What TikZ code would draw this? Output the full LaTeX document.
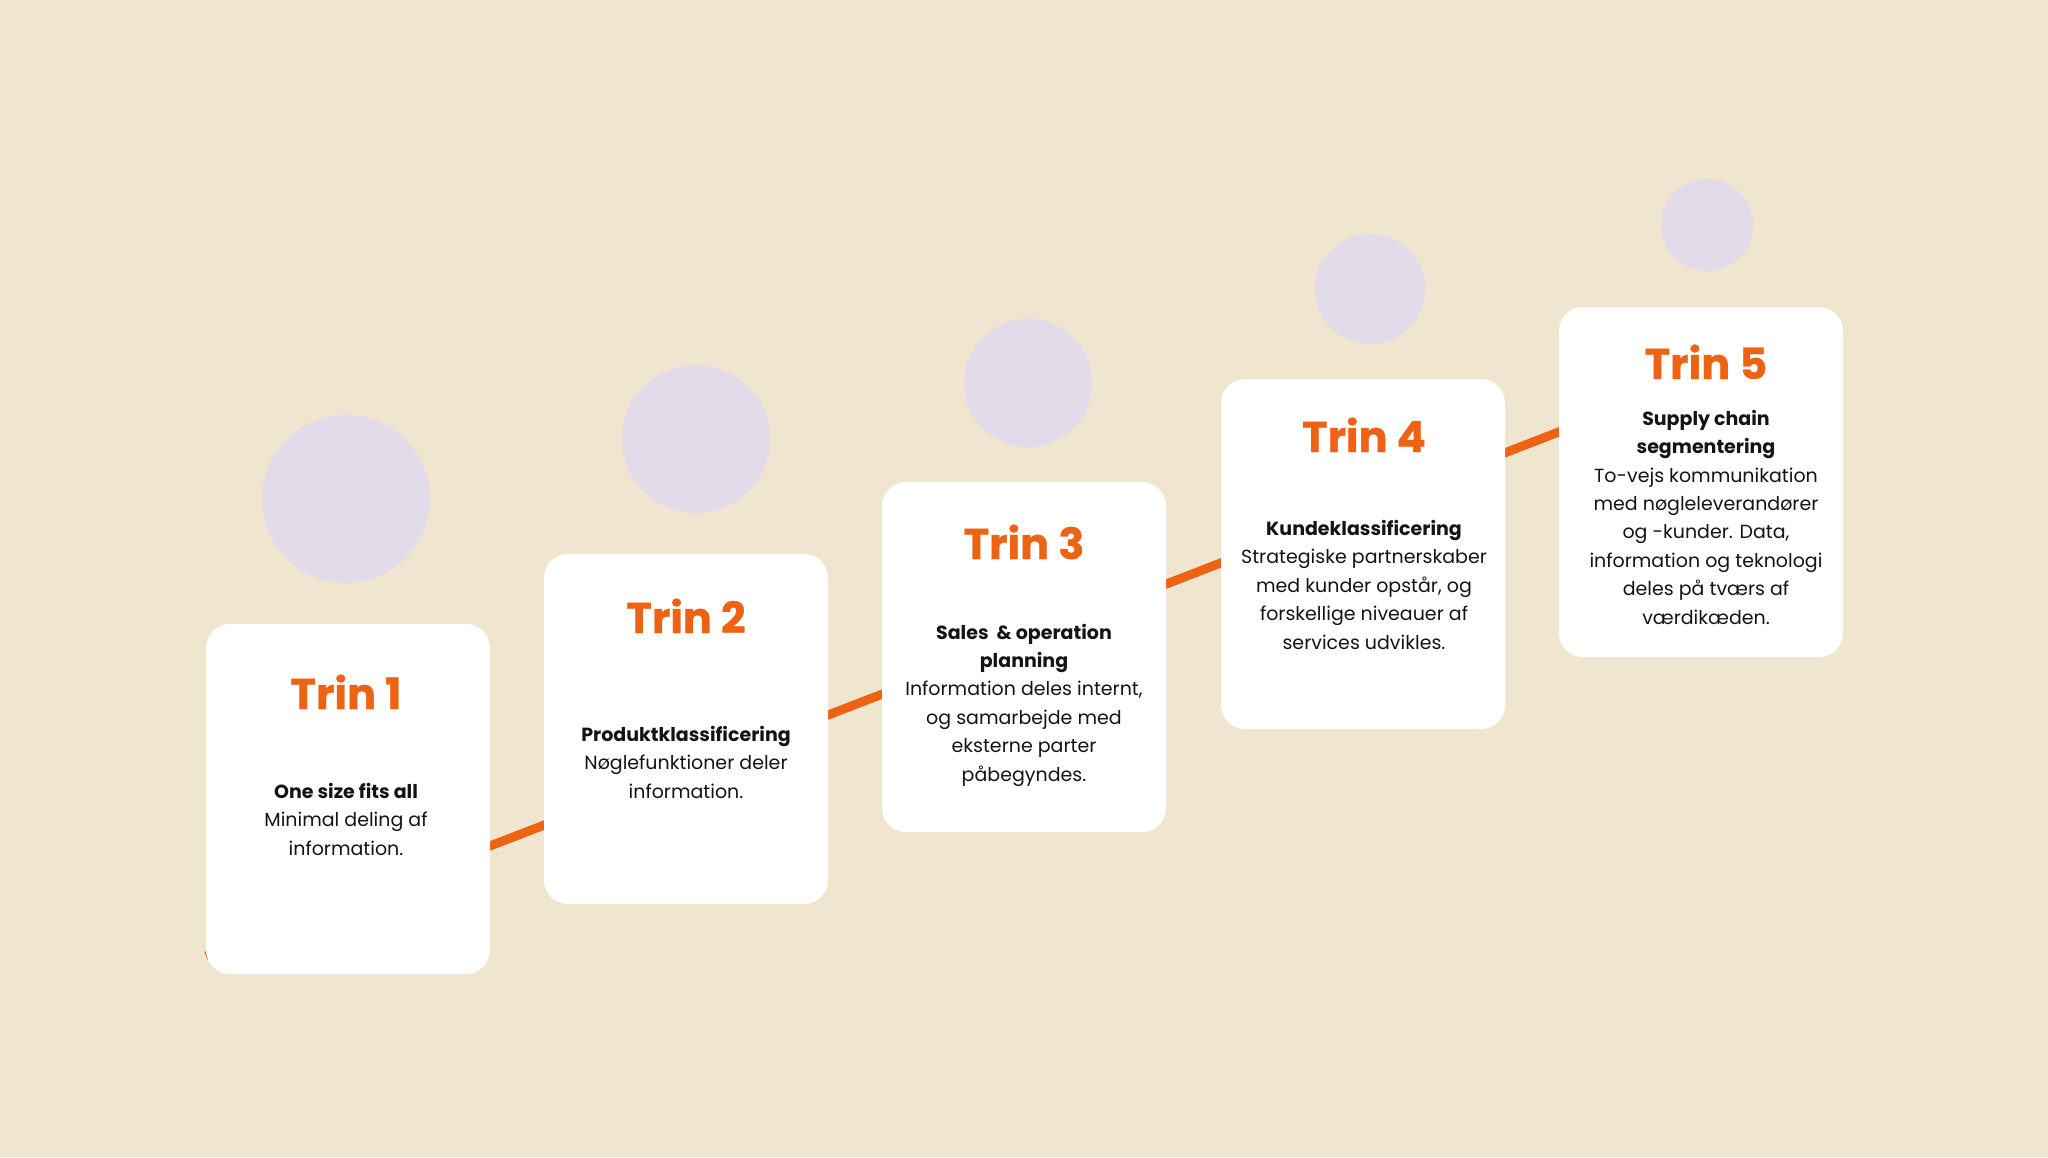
\documentclass[tikz,border=0pt]{standalone}
\usepackage{fontspec}
\setmainfont{Poppins}
\newfontfamily\trinfont{Poppins}[BoldFeatures={FakeBold=0.8}]
\usepackage{tikz}
\usetikzlibrary{positioning}
\definecolor{trinbg}{RGB}{240,230,208}
\definecolor{trinorange}{RGB}{238,98,20}
\definecolor{trinlilac}{RGB}{226,219,234}
\definecolor{trintext}{RGB}{20,20,20}
\tikzstyle{trail} = [line width=4.5pt, color=trinorange]

\begin{document}
\begin{tikzpicture}[
    x=0.5pt, y=-0.5pt,
    card/.style={rectangle, rounded corners=12pt, fill=white, minimum width=142pt, minimum height=175pt, inner sep=0pt},
    dot/.style={circle, fill=trinlilac, inner sep=0pt},
    title/.style={anchor=base, text=trinorange, font=\fontsize{21.5}{26}\selectfont\trinfont\bfseries},
    blurb/.style={anchor=base, align=center, text=trintext, inner sep=0pt, font=\fontsize{9.5}{14.2}\selectfont}
]
% Background
\fill[trinbg] (0,0) rectangle (2048,1157);
\useasboundingbox (0,0) rectangle (2048,1157);

% Circles
\node (dot1) [dot, minimum size=84pt] at (346,499) {};
\node (dot2) [dot, minimum size=74pt] at (696,439) {};
\node (dot3) [dot, minimum size=64pt] at (1028,383) {};
\node (dot4) [dot, minimum size=55pt] at (1370,289) {};
\node (dot5) [dot, minimum size=46pt] at (1707,225) {};

% Trail behind the cards
\coordinate (trailstart) at (206,956);
\coordinate (trailend) at (1600,416);
\draw[trail] (trailstart) -- (trailend);

% Cards
\node (card1) [card] at (348,799) {};
\node (card2) [card] at (686,729) {};
\node (card3) [card] at (1024,657) {};
\node (card4) [card] at (1363,554) {};
\node (card5) [card] at (1701,482) {};

% Step 1 (blurbs sit on their last line)
\node (title1) [title] at (346,709) {Trin 1};
\node (text1) [blurb] at (346,855) {\textbf{One size fits all}\\Minimal deling af\\information.};

% Step 2
\node (title2) [title] at (686,633) {Trin 2};
\node (text2) [blurb] at (686,798) {\textbf{Produktklassificering}\\Nøglefunktioner deler\\information.};

% Step 3
\node (title3) [title] at (1024,559) {Trin 3};
\node (text3) [blurb] at (1024,781) {\textbf{Sales~ \& operation}\\\textbf{planning}\\Information deles internt,\\og samarbejde med\\eksterne parter\\påbegyndes.};

% Step 4
\node (title4) [title] at (1364,452) {Trin 4};
\node (text4) [blurb] at (1364,649) {\textbf{Kundeklassificering}\\Strategiske partnerskaber\\med kunder opstår, og\\forskellige niveauer af\\services udvikles.};

% Step 5
\node (title5) [title] at (1706,379) {Trin 5};
\node (text5) [blurb] at (1706,624) {\textbf{Supply chain}\\\textbf{segmentering}\\To-vejs kommunikation\\med nøgleleverandører\\og -kunder. Data,\\information og teknologi\\deles på tværs af\\værdikæden.};
\end{tikzpicture}
\end{document}
